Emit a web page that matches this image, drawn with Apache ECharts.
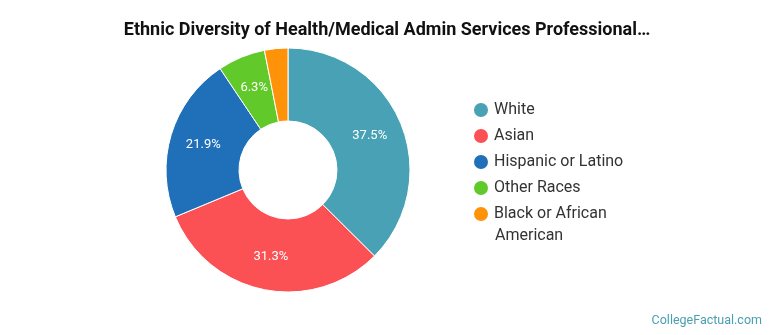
<!DOCTYPE html>
<html><head><meta charset="utf-8">
<script src="https://cdn.jsdelivr.net/npm/echarts@6/dist/echarts.min.js"></script>
<style>html,body{margin:0;padding:0;background:#fff}#c{width:770px;height:335px}</style>
</head><body><div id="c"></div>
<script>
const categories = ["White", "Asian", "Hispanic or Latino", "Other Races", "Black or African American"];
const legendLabels = ["White", "Asian", "Hispanic or Latino", "Other Races", "Black or African"];
const values = [37.5, 31.3, 21.9, 6.3, 3.1];
const colors = ["#48a1b4", "#fc5154", "#1f70b8", "#62c92b", "#fe930a"];

const chart = echarts.init(document.getElementById('c'));
chart.setOption({
  animation: false,
  title: {
    text: "Ethnic Diversity of Health/Medical Admin Services Professional\u2026",
    left: 382, top: 16, textAlign: 'center',
    textStyle: {fontFamily: 'Roboto', fontWeight: 'bold', fontSize: 18, color: '#111'}
  },
  graphic: [{
    type: 'text', right: 8, top: 314,
    style: {text: 'CollegeFactual.com', fill: '#4a9fb0', font: '12.5px Roboto'}
  }, {
    type: 'text', left: 495, top: 228,
    style: {text: 'American', fill: '#333', font: '16px Roboto'}
  }],
  legend: {
    orient: 'vertical', left: 467, top: 94,
    icon: 'circle', itemWidth: 16, itemHeight: 16, itemGap: 4,
    textStyle: {fontFamily: 'Roboto', fontSize: 16, color: '#333', lineHeight: 22},
    formatter: function(name){ return legendLabels[categories.indexOf(name)]; },
    data: categories
  },
  series: [{
    type: 'pie',
    center: [288, 170],
    radius: [49, 122],
    startAngle: 90,
    clockwise: true,
    color: colors,
    itemStyle: {borderColor: '#fff', borderWidth: 1},
    label: {
      position: 'inside', color: '#fff', fontFamily: 'Roboto', fontSize: 13,
      formatter: function(p){ return p.value >= 5 ? p.value.toFixed(1) + '%' : ''; }
    },
    labelLine: {show: false},
    data: categories.map((c, i) => ({name: c, value: values[i]}))
  }]
});
</script></body></html>
